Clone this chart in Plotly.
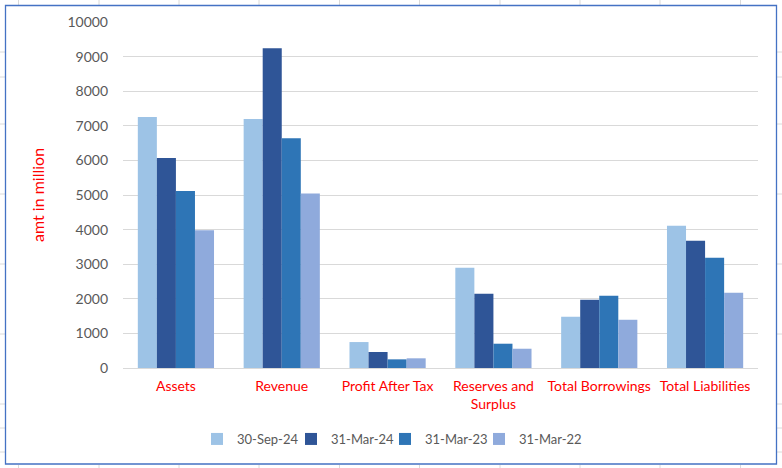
import plotly.graph_objects as go

categories = ["Assets", "Revenue", "Profit After Tax", "Reserves and<br>Surplus",
              "Total Borrowings", "Total Liabilities"]
series_names = ["30-Sep-24", "31-Mar-24", "31-Mar-23", "31-Mar-22"]
sep24 = [7255, 7200, 750, 2895, 1480, 4110]
mar24 = [6070, 9240, 462, 2145, 1972, 3675]
mar23 = [5118, 6640, 250, 702, 2087, 3184]
mar22 = [3980, 5040, 280, 557, 1394, 2174]
y_ticks = list(range(0, 10001, 1000))

colors = ["#9DC3E6", "#2F5597", "#2E75B6", "#8FAADC"]
FONT = "Lato, Calibri, Carlito, sans-serif"

W, H = 782, 468
L, R, T, B = 123, 758, 22, 368  # plot area pixel edges


def px(x):
    return (x - L) / (R - L)


def py(y):
    return (B - y) / (B - T)


fig = go.Figure()
for name, vals, c in zip(series_names, [sep24, mar24, mar23, mar22], colors):
    fig.add_trace(go.Bar(x=categories, y=vals, name=name, marker_color=c,
                         marker_line_width=0))
# invisible spacer legend entry so the last legend label is not clipped
fig.add_trace(go.Scatter(x=[None], y=[None], mode="markers", name=" ",
                         marker=dict(opacity=0, color="white"), hoverinfo="skip",
                         showlegend=True))

shapes = []
grid_col = "#DADADA"
# spreadsheet cell lines outside the chart box
for gx in [18.5, 99, 179, 259, 339.5, 419.5, 500, 580, 660, 740.5]:
    shapes.append(dict(type="line", xref="paper", yref="paper",
                       x0=px(gx), x1=px(gx), y0=py(0), y1=py(5), line=dict(color=grid_col, width=1)))
    shapes.append(dict(type="line", xref="paper", yref="paper",
                       x0=px(gx), x1=px(gx), y0=py(465), y1=py(468), line=dict(color=grid_col, width=1)))
for gy in [52, 77, 124, 194, 264, 334, 404, 428, 452]:
    shapes.append(dict(type="line", xref="paper", yref="paper",
                       x0=px(0), x1=px(5), y0=py(gy), y1=py(gy), line=dict(color=grid_col, width=1)))
    shapes.append(dict(type="line", xref="paper", yref="paper",
                       x0=px(777), x1=px(782), y0=py(gy), y1=py(gy), line=dict(color=grid_col, width=1)))
# chart border
shapes.append(dict(type="rect", xref="paper", yref="paper",
                   x0=px(5.5), x1=px(776.5), y0=py(464), y1=py(5.5),
                   line=dict(color="#4472C4", width=1.3), fillcolor="rgba(0,0,0,0)"))

fig.update_layout(
    width=W, height=H,
    margin=dict(l=L, r=W - R, t=T, b=H - B, pad=0),
    paper_bgcolor="white", plot_bgcolor="white",
    font=dict(family=FONT, size=13, color="#595959"),
    barmode="group", bargap=0.28, bargroupgap=0,
    showlegend=True,
    legend=dict(orientation="h", x=px(432), xanchor="center", y=py(439), yanchor="middle",
                font=dict(size=13, color="#595959"), traceorder="normal",
                itemwidth=30, tracegroupgap=0, entrywidth=49, entrywidthmode="pixels",
                itemclick=False, itemdoubleclick=False),
    shapes=shapes,
    annotations=[dict(text="amt in million", xref="paper", yref="paper",
                      x=px(37), y=py(195), xanchor="center", yanchor="middle",
                      textangle=-90, showarrow=False,
                      font=dict(family=FONT, size=16, color="#FF0000"))],
)
fig.update_yaxes(range=[0, 10000], tickvals=y_ticks, ticktext=[str(v) for v in y_ticks],
                 showgrid=True, gridcolor="#D9D9D9", gridwidth=1, zeroline=False,
                 showline=False, ticks="", ticklabelstandoff=14,
                 tickfont=dict(size=14, color="#595959"), fixedrange=True)
fig.update_xaxes(showline=True, linecolor="#D9D9D9", linewidth=1, ticks="",
                 tickfont=dict(size=14, color="#FF0000"), ticklabelstandoff=5,
                 tickangle=0, fixedrange=True)

fig.write_html("out.html", config={"displayModeBar": False},
               post_script="document.body.style.margin='0';document.body.style.overflow='hidden';")
